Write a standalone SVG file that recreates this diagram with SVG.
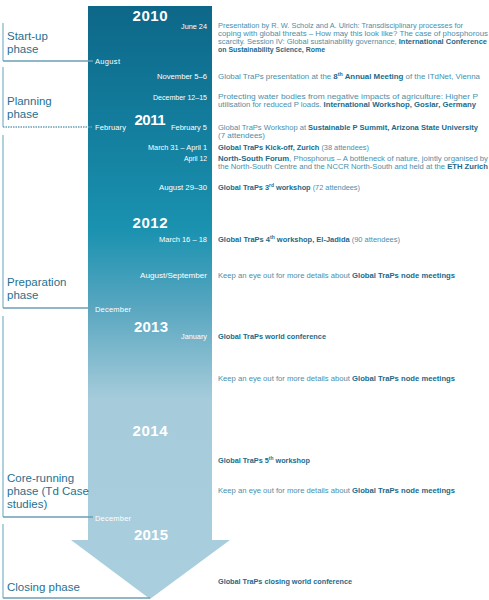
<svg xmlns="http://www.w3.org/2000/svg" width="489" height="600" viewBox="0 0 489 600">
<defs>
<linearGradient id="arrowGrad" gradientUnits="userSpaceOnUse" x1="0" y1="6" x2="0" y2="600">
<stop offset="0" stop-color="#0d6788"/>
<stop offset="0.19" stop-color="#137c9c"/>
<stop offset="0.377" stop-color="#1a92b0"/>
<stop offset="0.51" stop-color="#5aa7c0"/>
<stop offset="0.663" stop-color="#a6ccdb"/>
<stop offset="1" stop-color="#a9cedd"/>
</linearGradient>
</defs>
<style>
.phase{font-family:"Liberation Sans",Arial,sans-serif;font-size:11.5px;fill:#1f7090}
.year{font-family:"Liberation Sans",Arial,sans-serif;font-size:15px;font-weight:bold;fill:#ffffff;text-anchor:middle}
.date{font-family:"Liberation Sans",Arial,sans-serif;font-size:7.5px;fill:#ffffff;text-anchor:end}
.month{font-family:"Liberation Sans",Arial,sans-serif;font-size:7.5px;fill:#ffffff}
.ev{font-family:"Liberation Sans",Arial,sans-serif;font-size:7.5px;fill:#4a8fab}
.b{font-weight:bold;fill:#1b6a8a}
.vbar{stroke:#9cc6d6;stroke-width:1.6;fill:none}
.hbar{stroke:#6a9fb5;stroke-width:1.4;fill:none}
</style>
<g id="arrow">
<path d="M88 6 H212 V540 H230 L150 599 L71 540 H88 Z" fill="url(#arrowGrad)"/>
</g>
<g id="connectors">
<path class="vbar" d="M3 23 V61"/>
<path class="hbar" d="M3 61 H93"/>
<path class="vbar" d="M3 67 V127"/>
<path class="hbar" d="M3 127 H93" stroke="#b5d3df" stroke-dasharray="1.5 1"/>
<path class="vbar" d="M3 135 V308"/>
<path class="hbar" d="M3 308 H93"/>
<path class="vbar" d="M3 316 V517"/>
<path class="hbar" d="M3 517 H93"/>
<path class="vbar" d="M3 524 V598"/>
<path class="hbar" d="M3 598 H150"/>
</g>
<g id="phase-startup"><text class="phase" x="7" y="40">Start-up</text><text class="phase" x="7" y="53">phase</text></g>
<g id="phase-planning"><text class="phase" x="7" y="105">Planning</text><text class="phase" x="7" y="118">phase</text></g>
<g id="phase-preparation"><text class="phase" x="7" y="286">Preparation</text><text class="phase" x="7" y="299">phase</text></g>
<g id="phase-core"><text class="phase" x="7" y="482">Core-running</text><text class="phase" x="7" y="495">phase (Td Case</text><text class="phase" x="7" y="508">studies)</text></g>
<g id="phase-closing"><text class="phase" x="7" y="591">Closing phase</text></g>
<g id="years">
<text class="year" x="150" y="21" textLength="35">2010</text>
<text class="year" x="150" y="125" textLength="31">2011</text>
<text class="year" x="150" y="228" textLength="35">2012</text>
<text class="year" x="151" y="332" textLength="34">2013</text>
<text class="year" x="150" y="436" textLength="35">2014</text>
<text class="year" x="151" y="540" textLength="34">2015</text>
</g>
<g id="months">
<text class="month" x="95" y="64" textLength="25">August</text>
<text class="month" x="95" y="130" textLength="31">February</text>
<text class="month" x="95" y="312" textLength="36">December</text>
<text class="month" x="95" y="521" textLength="36">December</text>
</g>
<g id="dates">
<text class="date" x="207" y="29" textLength="26" lengthAdjust="spacingAndGlyphs">June 24</text>
<text class="date" x="207" y="79" textLength="50" lengthAdjust="spacingAndGlyphs">November 5–6</text>
<text class="date" x="207" y="100" textLength="54" lengthAdjust="spacingAndGlyphs">December 12–15</text>
<text class="date" x="207" y="130" textLength="36" lengthAdjust="spacingAndGlyphs">February 5</text>
<text class="date" x="207" y="150" textLength="59" lengthAdjust="spacingAndGlyphs">March 31 – April 1</text>
<text class="date" x="207" y="161" textLength="23" lengthAdjust="spacingAndGlyphs">April 12</text>
<text class="date" x="207" y="190" textLength="48" lengthAdjust="spacingAndGlyphs">August 29–30</text>
<text class="date" x="207" y="242" textLength="48" lengthAdjust="spacingAndGlyphs">March 16 – 18</text>
<text class="date" x="207" y="278" textLength="67" lengthAdjust="spacingAndGlyphs">August/September</text>
<text class="date" x="207" y="339" textLength="26" lengthAdjust="spacingAndGlyphs">January</text>
</g>
<g id="events">
<g id="ev-2010-06">
<text class="ev" x="218" y="28" textLength="245" lengthAdjust="spacingAndGlyphs">Presentation by R. W. Scholz and A. Ulrich: Transdisciplinary processes for</text>
<text class="ev" x="218" y="36" textLength="270" lengthAdjust="spacingAndGlyphs">coping with global threats – How may this look like? The case of phosphorous</text>
<text class="ev" x="218" y="44" textLength="269" lengthAdjust="spacingAndGlyphs">scarcity. Session IV: Global sustainability governance, <tspan class="b">International Conference</tspan></text>
<text class="ev b" x="218" y="52" textLength="107" lengthAdjust="spacingAndGlyphs">on Sustainability Science, Rome</text>
</g>
<g id="ev-2010-11">
<text class="ev" x="218" y="79" textLength="262" lengthAdjust="spacingAndGlyphs">Global TraPs presentation at the <tspan class="b">8<tspan font-size="5" dy="-3">th</tspan><tspan dy="3"> Annual Meeting</tspan></tspan> of the ITdNet, Vienna</text>
</g>
<g id="ev-2010-12">
<text class="ev" x="218" y="99" textLength="260" lengthAdjust="spacingAndGlyphs">Protecting water bodies from negative impacts of agriculture: Higher P</text>
<text class="ev" x="218" y="107" textLength="258" lengthAdjust="spacingAndGlyphs">utilisation for reduced P loads. <tspan class="b">International Workshop, Goslar, Germany</tspan></text>
</g>
<g id="ev-2011-02">
<text class="ev" x="218" y="130" textLength="260" lengthAdjust="spacingAndGlyphs">Global TraPs Workshop at <tspan class="b">Sustainable P Summit, Arizona State University</tspan></text>
<text class="ev" x="218" y="138" textLength="47" lengthAdjust="spacingAndGlyphs">(7 attendees)</text>
</g>
<g id="ev-2011-03">
<text class="ev" x="218" y="150" textLength="151" lengthAdjust="spacingAndGlyphs"><tspan class="b">Global TraPs Kick-off, Zurich</tspan> (38 attendees)</text>
</g>
<g id="ev-2011-04">
<text class="ev" x="218" y="161" textLength="270" lengthAdjust="spacingAndGlyphs"><tspan class="b">North-South Forum</tspan>, Phosphorus – A bottleneck of nature, jointly organised by</text>
<text class="ev" x="218" y="169" textLength="270" lengthAdjust="spacingAndGlyphs">the North-South Centre and the NCCR North-South and held at the <tspan class="b">ETH Zurich</tspan></text>
</g>
<g id="ev-2011-08">
<text class="ev" x="218" y="190" textLength="142" lengthAdjust="spacingAndGlyphs"><tspan class="b">Global TraPs 3<tspan font-size="5" dy="-3">rd</tspan><tspan dy="3"> workshop</tspan></tspan> (72 attendees)</text>
</g>
<g id="ev-2012-03">
<text class="ev" x="218" y="242" textLength="182" lengthAdjust="spacingAndGlyphs"><tspan class="b">Global TraPs 4<tspan font-size="5" dy="-3">th</tspan><tspan dy="3"> workshop, El-Jadida</tspan></tspan> (90 attendees)</text>
</g>
<g id="ev-2012-08">
<text class="ev" x="218" y="278" textLength="237" lengthAdjust="spacingAndGlyphs">Keep an eye out for more details about <tspan class="b">Global TraPs node meetings</tspan></text>
</g>
<g id="ev-2013-01">
<text class="ev b" x="218" y="339" textLength="108" lengthAdjust="spacingAndGlyphs">Global TraPs world conference</text>
</g>
<g id="ev-2013-nodes">
<text class="ev" x="218" y="381" textLength="237" lengthAdjust="spacingAndGlyphs">Keep an eye out for more details about <tspan class="b">Global TraPs node meetings</tspan></text>
</g>
<g id="ev-2014-ws5">
<text class="ev b" x="218" y="463" textLength="92" lengthAdjust="spacingAndGlyphs">Global TraPs 5<tspan font-size="5" dy="-3">th</tspan><tspan dy="3"> workshop</tspan></text>
</g>
<g id="ev-2014-nodes">
<text class="ev" x="218" y="493" textLength="237" lengthAdjust="spacingAndGlyphs">Keep an eye out for more details about <tspan class="b">Global TraPs node meetings</tspan></text>
</g>
<g id="ev-2015">
<text class="ev b" x="218" y="584" textLength="134" lengthAdjust="spacingAndGlyphs">Global TraPs closing world conference</text>
</g>
</g>
</svg>
